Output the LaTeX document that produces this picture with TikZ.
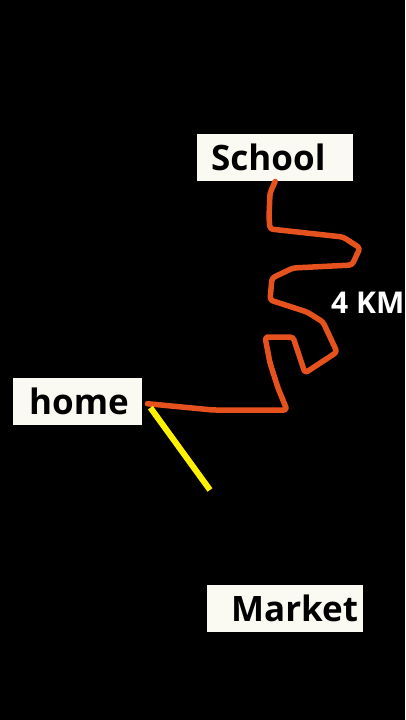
\documentclass[tikz,border=0pt]{standalone}
\usepackage{fontspec}
\setmainfont{Open Sans}
\usepackage{xcolor}
\usepackage{tikz}
\usetikzlibrary{positioning}
\definecolor{roadorange}{RGB}{230,82,30}
\definecolor{paper}{RGB}{250,250,242}

\begin{document}
\begin{tikzpicture}[x=1pt,y=-1pt,
	place/.style={fill=paper,inner ysep=0pt,minimum height=47pt,align=left,
		font=\fontsize{35}{35}\selectfont\bfseries,text=black},
	road/.style={line width=5.5pt,line join=round,line cap=round}]
	\useasboundingbox (0,0) rectangle (405,720);
	\fill[black] (0,0) rectangle (405,720);
	\clip (0,0) rectangle (405,720);

	\node[place,anchor=north west,inner xsep=14pt,text width=128pt] (school) at (197,134) {School};
	\node[place,anchor=north west,inner xsep=16pt,text width=97pt] (home) at (13,378) {home};
	\node[place,anchor=north west,inner xsep=24pt,text width=108pt] (market) at (207,585) {Market};

	\coordinate (E) at (210,490); % end of the yellow stroke

	% winding road, 4 km
	\draw[road,roadorange,rounded corners=3pt] (school.south)--(270,193)--(269,217)--(270,229)
		--(343,237)--(360,248)--(352,265)--(293,268)--(272,278)--(270,300)
		--(307,312)--(323,322)--(337,352)--(305,373)--(293,337)--(265,337)
		--(270,363)--(278,388)--(287,410)--(213,410)--([xshift=5pt,yshift=-2pt]home.east);
	\draw[road,yellow,line width=6pt,line cap=butt] ([xshift=8pt,yshift=-6pt]home.east)--(E);

	\node[anchor=base west,inner sep=0pt,text=white,font=\fontsize{30}{30}\selectfont\bfseries] (dist) at (331,313) {4 KM};
\end{tikzpicture}
\end{document}
